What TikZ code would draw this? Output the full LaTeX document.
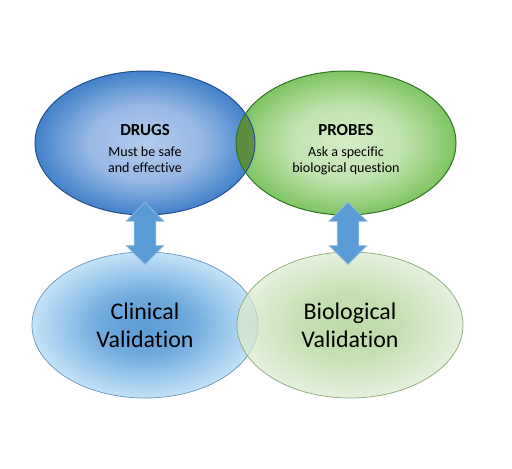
\documentclass[tikz,border=0pt]{standalone}
\usepackage{fontspec}
\setmainfont{Carlito}[Ligatures=NoCommon]
\usetikzlibrary{shapes.geometric,shapes.arrows,calc}

\definecolor{drugsin}{HTML}{B3CBEC}
\definecolor{drugsout}{HTML}{4381CA}
\definecolor{drugsline}{HTML}{24508F}
\definecolor{probesin}{HTML}{CBE8B8}
\definecolor{probesout}{HTML}{5EB63C}
\definecolor{probesline}{HTML}{2F7424}
\definecolor{overlapgreen}{HTML}{5B8136}
\definecolor{clinin}{HTML}{5B9BD5}
\definecolor{clinout}{HTML}{C2E3F8}
\definecolor{clinline}{HTML}{6A94BC}
\definecolor{bioin}{HTML}{A6CF8A}
\definecolor{bioout}{HTML}{DCEBD2}
\definecolor{bioline}{HTML}{8CA873}
\definecolor{arrowfill}{HTML}{5B9BD5}
\definecolor{arrowline}{HTML}{8DB8E2}

\pgfdeclareradialshading{drugsshade}{\pgfpointorigin}{color(0bp)=(drugsin); color(13bp)=(drugsin!75!drugsout); color(25bp)=(drugsout); color(50bp)=(drugsout)}
\pgfdeclareradialshading{probesshade}{\pgfpointorigin}{color(0bp)=(probesin); color(13bp)=(probesin!75!probesout); color(25bp)=(probesout); color(50bp)=(probesout)}
\pgfdeclareradialshading{clinshade}{\pgfpointorigin}{color(0bp)=(clinin); color(10bp)=(clinin!80!clinout); color(25bp)=(clinout); color(50bp)=(clinout)}
\pgfdeclareradialshading{bioshade}{\pgfpointorigin}{color(0bp)=(bioin); color(11bp)=(bioin!80!bioout); color(25bp)=(bioout); color(50bp)=(bioout)}

\begin{document}
\begin{tikzpicture}[x=0.025cm,y=-0.025cm,
    oval/.style={ellipse,inner sep=0pt},
    fatarrow/.style={double arrow,rotate=90,draw=arrowline,fill=arrowfill,line width=0.5pt,
      inner xsep=0pt,inner ysep=0.26cm,minimum height=1.55cm,double arrow head extend=0.2cm},
    toptext/.style={align=center,font=\fontsize{10}{11.4}\selectfont},
    bottext/.style={align=center,font=\fontsize{17}{20}\selectfont}]
    \useasboundingbox (0,0) rectangle (512,468);

    \node[oval,shading=clinshade,draw=clinline,line width=0.5pt,minimum width=5.65cm,minimum height=3.65cm,bottext] (clinical) at (145,325) {Clinical\\Validation};
    \node[oval,shading=bioshade,fill opacity=0.75,draw=bioline,draw opacity=1,line width=0.5pt,minimum width=5.65cm,minimum height=3.65cm] (biological) at (350,325) {};
    \node[bottext] (biological text) at (biological.center) {Biological\\Validation};

    \node[oval,shading=drugsshade,minimum width=5.5cm,minimum height=3.6cm] (drugs) at (145,143) {};
    \node[oval,shading=probesshade,fill opacity=0.8,minimum width=5.5cm,minimum height=3.6cm] (probes) at (346,143) {};
    \begin{scope}
      \clip (drugs.center) ellipse [x radius=110, y radius=72];
      \fill[overlapgreen,fill opacity=0.75] (probes.center) ellipse [x radius=110, y radius=72];
    \end{scope}
    \draw[drugsline,line width=0.7pt] (drugs.center) ellipse [x radius=110, y radius=72];
    \draw[probesline,line width=0.7pt] (probes.center) ellipse [x radius=110, y radius=72];

    \node[toptext] (drugs text) at ([yshift=-4pt]drugs.center) {{\bfseries\fontsize{12}{12}\selectfont DRUGS}\\[3.6pt]Must be safe\\and effective};
    \node[toptext] (probes text) at ([yshift=-4.5pt]probes.center) {{\bfseries\fontsize{12}{12}\selectfont PROBES}\\[3.6pt]Ask a specific\\biological question};

    \node[fatarrow] (left arrow) at ($(drugs.south)!0.5!(clinical.north)$) {};
    \node[fatarrow] (right arrow) at ($(probes.south)!0.5!(biological.north)$) {};
\end{tikzpicture}
\end{document}
